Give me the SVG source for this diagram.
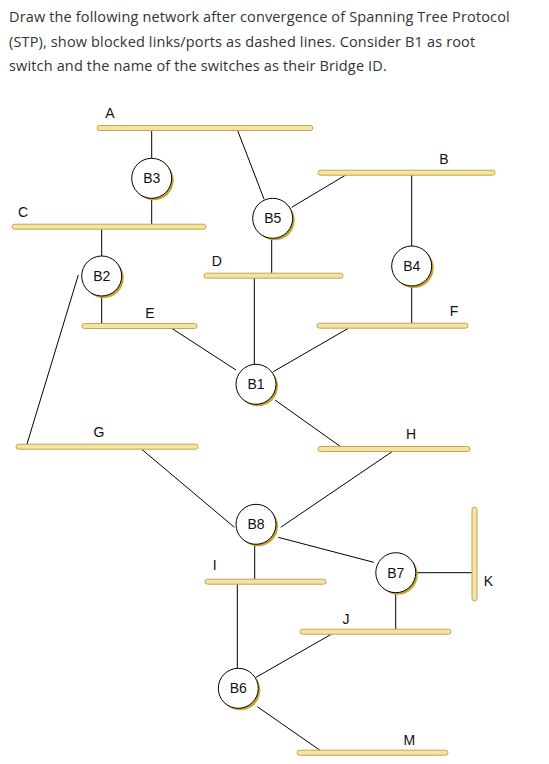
<svg xmlns="http://www.w3.org/2000/svg" width="549" height="764" viewBox="0 0 549 764">
<style>
.hdr{font-family:"Open Sans","Liberation Sans",sans-serif;font-size:14.5px;letter-spacing:0.15px;fill:#333}
.lbl{font-family:"Liberation Sans",Arial,sans-serif;font-size:14px;fill:#111;text-anchor:middle}
.bar{fill:#f3e3a6;stroke:#c5a548;stroke-width:1}
.sh{fill:#c9a232}
.nd{fill:#fff;stroke:#000;stroke-width:1}
.ln{stroke:#000;stroke-width:1;fill:none}
</style>
<rect width="549" height="764" fill="#fff"/>
<g id="title">
<text class="hdr" x="9" y="22">Draw the following network after convergence of Spanning Tree Protocol</text>
<text class="hdr" x="9" y="46.5">(STP), show blocked links/ports as dashed lines. Consider B1 as root</text>
<text class="hdr" x="9" y="70.5">switch and the name of the switches as their Bridge ID.</text>
</g>
<g id="connectors">
<line class="ln" x1="151.7" y1="130" x2="151.7" y2="158"/>
<line class="ln" x1="151.7" y1="198" x2="151.7" y2="224"/>
<line class="ln" x1="237.7" y1="130.7" x2="264" y2="199"/>
<line class="ln" x1="291.7" y1="207.3" x2="345.7" y2="175"/>
<line class="ln" x1="271.7" y1="238.5" x2="271.7" y2="273"/>
<line class="ln" x1="101.7" y1="229" x2="101.7" y2="256"/>
<line class="ln" x1="101.7" y1="296" x2="101.7" y2="323.5"/>
<line class="ln" x1="78.3" y1="275" x2="27" y2="444"/>
<line class="ln" x1="411.7" y1="175" x2="411.7" y2="246"/>
<line class="ln" x1="411.7" y1="286" x2="411.7" y2="323"/>
<line class="ln" x1="254.3" y1="278" x2="254.3" y2="364"/>
<line class="ln" x1="172" y1="328.5" x2="236" y2="370"/>
<line class="ln" x1="348.3" y1="328.3" x2="273.3" y2="371.7"/>
<line class="ln" x1="275" y1="400" x2="340.4" y2="446.5"/>
<line class="ln" x1="141.4" y1="449" x2="234.4" y2="527.3"/>
<line class="ln" x1="392.3" y1="451.5" x2="280.7" y2="527.3"/>
<line class="ln" x1="254.7" y1="544.5" x2="254.7" y2="579"/>
<line class="ln" x1="278.2" y1="537.3" x2="373.7" y2="562.3"/>
<line class="ln" x1="416" y1="572.7" x2="472" y2="572.7"/>
<line class="ln" x1="395.7" y1="593" x2="395.7" y2="629.2"/>
<line class="ln" x1="237.3" y1="584" x2="237.3" y2="668.3"/>
<line class="ln" x1="256" y1="677.3" x2="331.7" y2="634"/>
<line class="ln" x1="257.3" y1="706.7" x2="320" y2="750.3"/>
</g>
<g id="lan-A"><rect class="bar" x="97" y="125.5" width="216" height="5" rx="2.5"/><text class="lbl" x="110" y="118">A</text></g>
<g id="lan-B"><rect class="bar" x="318" y="170.2" width="177" height="5" rx="2.5"/><text class="lbl" x="444" y="163.5">B</text></g>
<g id="lan-C"><rect class="bar" x="12" y="224.2" width="194" height="5" rx="2.5"/><text class="lbl" x="23" y="217">C</text></g>
<g id="lan-D"><rect class="bar" x="204" y="273.2" width="139" height="5" rx="2.5"/><text class="lbl" x="216.7" y="266">D</text></g>
<g id="lan-E"><rect class="bar" x="82" y="323.5" width="115" height="5" rx="2.5"/><text class="lbl" x="150" y="318">E</text></g>
<g id="lan-F"><rect class="bar" x="317" y="323.2" width="151" height="5" rx="2.5"/><text class="lbl" x="454" y="316">F</text></g>
<g id="lan-G"><rect class="bar" x="16" y="444.2" width="182" height="5" rx="2.5"/><text class="lbl" x="99" y="437">G</text></g>
<g id="lan-H"><rect class="bar" x="318" y="446.5" width="152" height="5" rx="2.5"/><text class="lbl" x="411" y="439">H</text></g>
<g id="lan-I"><rect class="bar" x="205" y="579.2" width="121" height="5" rx="2.5"/><text class="lbl" x="214.7" y="569.5">I</text></g>
<g id="lan-J"><rect class="bar" x="300" y="629.2" width="151" height="5" rx="2.5"/><text class="lbl" x="346" y="623.5">J</text></g>
<g id="lan-K"><rect class="bar" x="472" y="507" width="5" height="94" rx="2.5"/><text class="lbl" x="488.3" y="586">K</text></g>
<g id="lan-M"><rect class="bar" x="297" y="750.2" width="151" height="5" rx="2.5"/><text class="lbl" x="409.3" y="744.5">M</text></g>
<g id="B3"><circle class="sh" cx="153.7" cy="180.3" r="20"/><circle class="nd" cx="151.7" cy="178.3" r="20"/><text class="lbl" x="151.7" y="183.3">B3</text></g>
<g id="B5"><circle class="sh" cx="274.7" cy="220.3" r="20"/><circle class="nd" cx="272.7" cy="218.3" r="20"/><text class="lbl" x="272.7" y="223.3">B5</text></g>
<g id="B2"><circle class="sh" cx="103.7" cy="278" r="20"/><circle class="nd" cx="101.7" cy="276" r="20"/><text class="lbl" x="101.7" y="281">B2</text></g>
<g id="B4"><circle class="sh" cx="413.7" cy="268" r="20"/><circle class="nd" cx="411.7" cy="266" r="20"/><text class="lbl" x="411.7" y="271">B4</text></g>
<g id="B1"><circle class="sh" cx="258" cy="386.3" r="20"/><circle class="nd" cx="256" cy="384.3" r="20"/><text class="lbl" x="256" y="389.3">B1</text></g>
<g id="B8"><circle class="sh" cx="258" cy="526.3" r="20"/><circle class="nd" cx="256" cy="524.3" r="20"/><text class="lbl" x="256" y="529.3">B8</text></g>
<g id="B7"><circle class="sh" cx="397.8" cy="574.7" r="20"/><circle class="nd" cx="395.8" cy="572.7" r="20"/><text class="lbl" x="395.8" y="577.7">B7</text></g>
<g id="B6"><circle class="sh" cx="240.3" cy="690.3" r="20"/><circle class="nd" cx="238.3" cy="688.3" r="20"/><text class="lbl" x="238.3" y="693.3">B6</text></g>
</svg>
